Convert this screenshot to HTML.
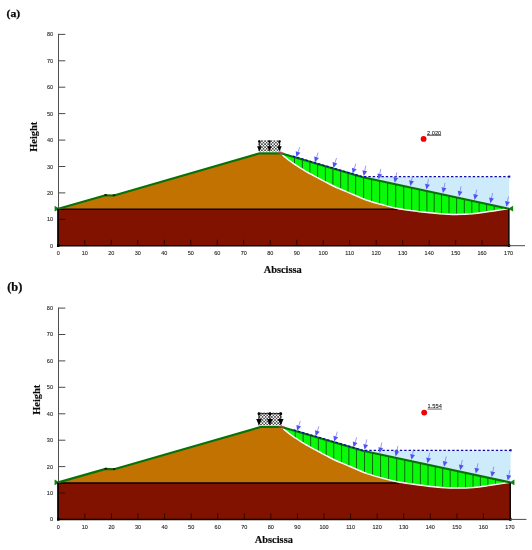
<!DOCTYPE html>
<html><head><meta charset="utf-8"><title>Slope stability</title>
<style>
html,body{margin:0;padding:0;background:#fff}
svg{display:block}
.t{font-family:"Liberation Sans",Arial,sans-serif;font-size:5.5px;fill:#2a2a2a;stroke:#2a2a2a;stroke-width:0.12px}
.f{font-family:"Liberation Sans",Arial,sans-serif;font-size:6.1px;fill:#222;stroke:#222;stroke-width:0.1px}
.p{font-family:"Liberation Serif","Times New Roman",serif;font-weight:bold;fill:#0a0a0a;stroke:#0a0a0a;stroke-width:0.25px}
.a{font-family:"Liberation Serif","Times New Roman",serif;font-weight:bold;font-size:10.4px;fill:#0a0a0a;stroke:#0a0a0a;stroke-width:0.15px}
</style></head><body>
<svg width="532" height="550" viewBox="0 0 532 550">
<defs>
<pattern id="hatch" width="3.1" height="3.1" patternUnits="userSpaceOnUse">
<path d="M0,0 L3.1,3.1 M3.1,0 L0,3.1" stroke="#000" stroke-width="0.55"/>
</pattern>
</defs>
<rect width="532" height="550" fill="#fff"/>
<rect x="58.0" y="209.2" width="450.9" height="36.8" fill="#821200"/>
<polygon points="58.3,209.2 58.3,208.7 105.6,195.2 113.9,195.5 259.8,153.3 281.0,153.3 362.0,177.0 508.9,208.7 508.9,209.2" fill="#C27200"/>
<polygon points="362.0,177.0 509.2,177.0 509.2,208.7" fill="#CDEBFA"/>
<path d="M281.0,153.8 C282.2,154.8 285.9,157.9 288.2,159.7 C290.5,161.4 292.6,162.8 294.8,164.3 C297.0,165.8 299.4,167.3 301.4,168.6 C303.4,169.9 305.0,170.8 307.0,172.0 C309.0,173.2 311.4,174.4 313.6,175.6 C315.8,176.8 318.1,178.0 320.2,179.1 C322.3,180.2 323.9,181.1 326.0,182.2 C328.1,183.3 330.6,184.7 332.9,185.8 C335.2,186.9 337.3,187.8 339.7,188.8 C342.1,189.8 344.4,190.8 347.0,191.9 C349.6,193.0 351.7,193.9 355.0,195.3 C358.3,196.7 362.1,198.6 366.9,200.2 C371.7,201.8 378.7,203.7 383.8,205.1 C388.9,206.5 391.8,207.3 397.4,208.4 C403.0,209.5 412.3,210.7 417.7,211.4 C423.1,212.1 426.3,212.4 430.0,212.8 C433.7,213.2 435.8,213.4 440.0,213.7 C444.2,214.0 450.0,214.4 455.4,214.4 C460.8,214.4 466.7,214.2 472.3,213.7 C477.9,213.2 483.1,212.4 489.2,211.6 C495.3,210.8 505.4,209.1 508.7,208.6 L362.0,177.0 L281.0,153.3 Z" fill="#08FA08"/>
<line x1="58.3" y1="209.2" x2="398" y2="209.2" stroke="#0a0000" stroke-width="1.5"/>
<line x1="294.5" y1="157.2" x2="294.5" y2="164.1" stroke="#0c5a0c" stroke-width="0.9"/>
<line x1="302.4" y1="159.5" x2="302.4" y2="169.2" stroke="#0c5a0c" stroke-width="0.9"/>
<line x1="309.9" y1="161.7" x2="309.9" y2="173.6" stroke="#0c5a0c" stroke-width="0.9"/>
<line x1="317.6" y1="164.0" x2="317.6" y2="177.7" stroke="#0c5a0c" stroke-width="0.9"/>
<line x1="325.4" y1="166.3" x2="325.4" y2="181.9" stroke="#0c5a0c" stroke-width="0.9"/>
<line x1="332.9" y1="168.5" x2="332.9" y2="185.8" stroke="#0c5a0c" stroke-width="0.9"/>
<line x1="340.7" y1="170.8" x2="340.7" y2="189.2" stroke="#0c5a0c" stroke-width="0.9"/>
<line x1="348.0" y1="172.9" x2="348.0" y2="192.3" stroke="#0c5a0c" stroke-width="0.9"/>
<line x1="355.6" y1="175.2" x2="355.6" y2="195.5" stroke="#0c5a0c" stroke-width="0.9"/>
<line x1="363.6" y1="177.4" x2="363.6" y2="198.8" stroke="#0c5a0c" stroke-width="0.9"/>
<line x1="371.6" y1="179.1" x2="371.6" y2="201.6" stroke="#0c5a0c" stroke-width="0.9"/>
<line x1="379.6" y1="180.8" x2="379.6" y2="203.9" stroke="#0c5a0c" stroke-width="0.9"/>
<line x1="387.6" y1="182.6" x2="387.6" y2="206.0" stroke="#0c5a0c" stroke-width="0.9"/>
<line x1="395.7" y1="184.3" x2="395.7" y2="208.0" stroke="#0c5a0c" stroke-width="0.9"/>
<line x1="403.7" y1="186.0" x2="403.7" y2="209.3" stroke="#0c5a0c" stroke-width="0.9"/>
<line x1="411.6" y1="187.7" x2="411.6" y2="210.5" stroke="#0c5a0c" stroke-width="0.9"/>
<line x1="419.3" y1="189.4" x2="419.3" y2="211.6" stroke="#0c5a0c" stroke-width="0.9"/>
<line x1="426.9" y1="191.0" x2="426.9" y2="212.4" stroke="#0c5a0c" stroke-width="0.9"/>
<line x1="434.2" y1="192.6" x2="434.2" y2="213.2" stroke="#0c5a0c" stroke-width="0.9"/>
<line x1="441.5" y1="194.2" x2="441.5" y2="213.8" stroke="#0c5a0c" stroke-width="0.9"/>
<line x1="449.0" y1="195.8" x2="449.0" y2="214.1" stroke="#0c5a0c" stroke-width="0.9"/>
<line x1="456.6" y1="197.4" x2="456.6" y2="214.4" stroke="#0c5a0c" stroke-width="0.9"/>
<line x1="464.3" y1="199.1" x2="464.3" y2="214.0" stroke="#0c5a0c" stroke-width="0.9"/>
<line x1="471.8" y1="200.7" x2="471.8" y2="213.7" stroke="#0c5a0c" stroke-width="0.9"/>
<line x1="479.1" y1="202.3" x2="479.1" y2="212.9" stroke="#0c5a0c" stroke-width="0.9"/>
<line x1="486.6" y1="203.9" x2="486.6" y2="211.9" stroke="#0c5a0c" stroke-width="0.9"/>
<line x1="494.2" y1="205.5" x2="494.2" y2="210.8" stroke="#0c5a0c" stroke-width="0.9"/>
<line x1="501.8" y1="207.2" x2="501.8" y2="209.7" stroke="#0c5a0c" stroke-width="0.9"/>
<path d="M281.0,153.8 C282.2,154.8 285.9,157.9 288.2,159.7 C290.5,161.4 292.6,162.8 294.8,164.3 C297.0,165.8 299.4,167.3 301.4,168.6 C303.4,169.9 305.0,170.8 307.0,172.0 C309.0,173.2 311.4,174.4 313.6,175.6 C315.8,176.8 318.1,178.0 320.2,179.1 C322.3,180.2 323.9,181.1 326.0,182.2 C328.1,183.3 330.6,184.7 332.9,185.8 C335.2,186.9 337.3,187.8 339.7,188.8 C342.1,189.8 344.4,190.8 347.0,191.9 C349.6,193.0 351.7,193.9 355.0,195.3 C358.3,196.7 362.1,198.6 366.9,200.2 C371.7,201.8 378.7,203.7 383.8,205.1 C388.9,206.5 391.8,207.3 397.4,208.4 C403.0,209.5 412.3,210.7 417.7,211.4 C423.1,212.1 426.3,212.4 430.0,212.8 C433.7,213.2 435.8,213.4 440.0,213.7 C444.2,214.0 450.0,214.4 455.4,214.4 C460.8,214.4 466.7,214.2 472.3,213.7 C477.9,213.2 483.1,212.4 489.2,211.6 C495.3,210.8 505.4,209.1 508.7,208.6" fill="none" stroke="#ffffff" stroke-width="1.5"/>
<polyline points="58.3,208.7 105.6,195.2 113.9,195.5 259.8,153.3 281.0,153.3 362.0,177.0 508.9,208.7" fill="none" stroke="#077307" stroke-width="2.15" stroke-linejoin="round"/>
<polygon points="54.6,205.8 59.8,208.7 54.6,211.6" fill="#0e860e"/>
<polygon points="513.1,205.8 507.9,208.7 513.1,211.6" fill="#0e860e"/>
<ellipse cx="105.6" cy="195.0" rx="1.5" ry="1.0" fill="#1c1c10"/>
<ellipse cx="113.9" cy="195.3" rx="1.5" ry="1.0" fill="#1c1c10"/>
<line x1="58.0" y1="208.5" x2="58.0" y2="246.4" stroke="#000" stroke-width="1.7"/>
<line x1="508.9" y1="208.7" x2="508.9" y2="246.4" stroke="#000" stroke-width="1.4"/>
<line x1="57.3" y1="245.7" x2="509.8" y2="245.7" stroke="#000" stroke-width="1.5"/>
<rect x="57.0" y="244.2" width="2.4" height="2.8" fill="#000"/>
<rect x="507.8" y="244.2" width="2.4" height="2.8" fill="#000"/>
<line x1="58.5" y1="33.9" x2="58.5" y2="209.2" stroke="#505050" stroke-width="1"/>
<line x1="508.6" y1="245.7" x2="525" y2="245.7" stroke="#4a4a4a" stroke-width="1"/>
<text x="53" y="247.7" text-anchor="end" class="t">0</text>
<line x1="58.3" y1="219.3" x2="65.3" y2="219.3" stroke="#3a0800" stroke-width="1"/>
<text x="53" y="221.3" text-anchor="end" class="t">10</text>
<line x1="58.3" y1="192.9" x2="65.3" y2="192.9" stroke="#4a4a4a" stroke-width="1"/>
<text x="53" y="194.9" text-anchor="end" class="t">20</text>
<line x1="58.3" y1="166.5" x2="65.3" y2="166.5" stroke="#4a4a4a" stroke-width="1"/>
<text x="53" y="168.5" text-anchor="end" class="t">30</text>
<line x1="58.3" y1="140.1" x2="65.3" y2="140.1" stroke="#4a4a4a" stroke-width="1"/>
<text x="53" y="142.1" text-anchor="end" class="t">40</text>
<line x1="58.3" y1="113.6" x2="65.3" y2="113.6" stroke="#4a4a4a" stroke-width="1"/>
<text x="53" y="115.6" text-anchor="end" class="t">50</text>
<line x1="58.3" y1="87.2" x2="65.3" y2="87.2" stroke="#4a4a4a" stroke-width="1"/>
<text x="53" y="89.2" text-anchor="end" class="t">60</text>
<line x1="58.3" y1="60.8" x2="65.3" y2="60.8" stroke="#4a4a4a" stroke-width="1"/>
<text x="53" y="62.8" text-anchor="end" class="t">70</text>
<line x1="58.3" y1="34.4" x2="65.3" y2="34.4" stroke="#4a4a4a" stroke-width="1"/>
<text x="53" y="36.4" text-anchor="end" class="t">80</text>
<text x="58.3" y="255.0" text-anchor="middle" class="t">0</text>
<line x1="84.8" y1="245.7" x2="84.8" y2="239.7" stroke="#2a0500" stroke-width="0.9"/>
<text x="84.8" y="255.0" text-anchor="middle" class="t">10</text>
<line x1="111.3" y1="245.7" x2="111.3" y2="239.7" stroke="#2a0500" stroke-width="0.9"/>
<text x="111.3" y="255.0" text-anchor="middle" class="t">20</text>
<line x1="137.8" y1="245.7" x2="137.8" y2="239.7" stroke="#2a0500" stroke-width="0.9"/>
<text x="137.8" y="255.0" text-anchor="middle" class="t">30</text>
<line x1="164.3" y1="245.7" x2="164.3" y2="239.7" stroke="#2a0500" stroke-width="0.9"/>
<text x="164.3" y="255.0" text-anchor="middle" class="t">40</text>
<line x1="190.8" y1="245.7" x2="190.8" y2="239.7" stroke="#2a0500" stroke-width="0.9"/>
<text x="190.8" y="255.0" text-anchor="middle" class="t">50</text>
<line x1="217.2" y1="245.7" x2="217.2" y2="239.7" stroke="#2a0500" stroke-width="0.9"/>
<text x="217.2" y="255.0" text-anchor="middle" class="t">60</text>
<line x1="243.7" y1="245.7" x2="243.7" y2="239.7" stroke="#2a0500" stroke-width="0.9"/>
<text x="243.7" y="255.0" text-anchor="middle" class="t">70</text>
<line x1="270.2" y1="245.7" x2="270.2" y2="239.7" stroke="#2a0500" stroke-width="0.9"/>
<text x="270.2" y="255.0" text-anchor="middle" class="t">80</text>
<line x1="296.7" y1="245.7" x2="296.7" y2="239.7" stroke="#2a0500" stroke-width="0.9"/>
<text x="296.7" y="255.0" text-anchor="middle" class="t">90</text>
<line x1="323.2" y1="245.7" x2="323.2" y2="239.7" stroke="#2a0500" stroke-width="0.9"/>
<text x="323.2" y="255.0" text-anchor="middle" class="t">100</text>
<line x1="349.7" y1="245.7" x2="349.7" y2="239.7" stroke="#2a0500" stroke-width="0.9"/>
<text x="349.7" y="255.0" text-anchor="middle" class="t">110</text>
<line x1="376.2" y1="245.7" x2="376.2" y2="239.7" stroke="#2a0500" stroke-width="0.9"/>
<text x="376.2" y="255.0" text-anchor="middle" class="t">120</text>
<line x1="402.7" y1="245.7" x2="402.7" y2="239.7" stroke="#2a0500" stroke-width="0.9"/>
<text x="402.7" y="255.0" text-anchor="middle" class="t">130</text>
<line x1="429.2" y1="245.7" x2="429.2" y2="239.7" stroke="#2a0500" stroke-width="0.9"/>
<text x="429.2" y="255.0" text-anchor="middle" class="t">140</text>
<line x1="455.7" y1="245.7" x2="455.7" y2="239.7" stroke="#2a0500" stroke-width="0.9"/>
<text x="455.7" y="255.0" text-anchor="middle" class="t">150</text>
<line x1="482.1" y1="245.7" x2="482.1" y2="239.7" stroke="#2a0500" stroke-width="0.9"/>
<text x="482.1" y="255.0" text-anchor="middle" class="t">160</text>
<text x="508.6" y="255.0" text-anchor="middle" class="t">170</text>
<polyline points="293,156.2 362.0,176.6 509.3,176.6" fill="none" stroke="#0a0aa8" stroke-width="1.3" stroke-dasharray="2.4,1.95"/>
<rect x="508.3" y="175.6" width="2" height="2" fill="#0a0aa8"/>
<line x1="299.6" y1="147.2" x2="298.1" y2="151.9" stroke="#7a7af2" stroke-width="0.75"/>
<polygon points="296.4,157.1 295.7,151.2 300.4,152.7" fill="#5252f2"/>
<line x1="318.1" y1="152.6" x2="316.6" y2="157.4" stroke="#7a7af2" stroke-width="0.75"/>
<polygon points="314.9,162.5 314.2,156.6 318.9,158.1" fill="#5252f2"/>
<line x1="336.5" y1="158.0" x2="335.0" y2="162.8" stroke="#7a7af2" stroke-width="0.75"/>
<polygon points="333.3,167.9 332.6,162.0 337.3,163.5" fill="#5252f2"/>
<line x1="355.8" y1="163.7" x2="354.3" y2="168.4" stroke="#7a7af2" stroke-width="0.75"/>
<polygon points="352.6,173.6 351.9,167.7 356.6,169.2" fill="#5252f2"/>
<line x1="365.8" y1="165.7" x2="364.8" y2="170.7" stroke="#7a7af2" stroke-width="0.75"/>
<polygon points="363.7,176.0 362.4,170.2 367.2,171.2" fill="#5252f2"/>
<line x1="380.8" y1="168.9" x2="379.8" y2="173.9" stroke="#7a7af2" stroke-width="0.75"/>
<polygon points="378.7,179.2 377.4,173.5 382.2,174.4" fill="#5252f2"/>
<line x1="396.8" y1="172.4" x2="395.8" y2="177.4" stroke="#7a7af2" stroke-width="0.75"/>
<polygon points="394.7,182.7 393.4,176.9 398.2,177.9" fill="#5252f2"/>
<line x1="412.5" y1="175.8" x2="411.5" y2="180.8" stroke="#7a7af2" stroke-width="0.75"/>
<polygon points="410.4,186.1 409.1,180.3 413.9,181.3" fill="#5252f2"/>
<line x1="428.5" y1="179.2" x2="427.5" y2="184.2" stroke="#7a7af2" stroke-width="0.75"/>
<polygon points="426.4,189.5 425.1,183.7 429.9,184.7" fill="#5252f2"/>
<line x1="445.0" y1="182.8" x2="444.0" y2="187.8" stroke="#7a7af2" stroke-width="0.75"/>
<polygon points="442.9,193.1 441.6,187.3 446.4,188.3" fill="#5252f2"/>
<line x1="461.1" y1="186.3" x2="460.1" y2="191.3" stroke="#7a7af2" stroke-width="0.75"/>
<polygon points="459.0,196.6 457.7,190.8 462.5,191.8" fill="#5252f2"/>
<line x1="476.7" y1="189.6" x2="475.7" y2="194.6" stroke="#7a7af2" stroke-width="0.75"/>
<polygon points="474.6,199.9 473.3,194.1 478.1,195.1" fill="#5252f2"/>
<line x1="492.5" y1="193.0" x2="491.5" y2="198.0" stroke="#7a7af2" stroke-width="0.75"/>
<polygon points="490.4,203.3 489.1,197.5 493.9,198.5" fill="#5252f2"/>
<line x1="508.5" y1="196.5" x2="507.5" y2="201.5" stroke="#7a7af2" stroke-width="0.75"/>
<polygon points="506.4,206.8 505.1,201.0 509.9,202.0" fill="#5252f2"/>
<rect x="258.5" y="140.2" width="21.80000000000001" height="11.300000000000011" fill="url(#hatch)"/>
<circle cx="259.3" cy="141.4" r="1.2" fill="#000"/>
<line x1="259.3" y1="141.2" x2="259.3" y2="146.5" stroke="#000" stroke-width="0.8"/>
<polygon points="257.1,146.2 261.5,146.2 259.3,151.5" fill="#000"/>
<circle cx="269.4" cy="141.4" r="1.2" fill="#000"/>
<line x1="269.4" y1="141.2" x2="269.4" y2="146.5" stroke="#000" stroke-width="0.8"/>
<polygon points="267.2,146.2 271.6,146.2 269.4,151.5" fill="#000"/>
<circle cx="279.5" cy="141.4" r="1.2" fill="#000"/>
<line x1="279.5" y1="141.2" x2="279.5" y2="146.5" stroke="#000" stroke-width="0.8"/>
<polygon points="277.3,146.2 281.7,146.2 279.5,151.5" fill="#000"/>
<path d="M278.0,153.0 h5.8 M280.7,151.3 l1.2,5.2" stroke="#c8405a" stroke-width="1.05" opacity="0.9" fill="none"/>
<circle cx="423.6" cy="138.9" r="2.9" fill="#f00000"/>
<text x="427" y="134.7" class="f" textLength="14.2" lengthAdjust="spacingAndGlyphs">2.020</text>
<line x1="427" y1="135.35" x2="441.2" y2="135.35" stroke="#222" stroke-width="0.7"/>
<text x="6.5" y="16.6" class="p" font-size="10.8" textLength="13.7" lengthAdjust="spacingAndGlyphs">(a)</text>
<text transform="translate(36.8,136.8) rotate(-90)" text-anchor="middle" class="a">Height</text>
<text x="282.7" y="272.6" text-anchor="middle" class="a">Abscissa</text>
<g transform="matrix(1.003 0 0 1 -0.175 0)">
<rect x="58.0" y="482.9" width="450.9" height="36.8" fill="#821200"/>
<polygon points="58.3,482.9 58.3,482.4 105.6,468.9 113.9,469.2 259.8,427.0 281.0,427.0 362.0,450.7 508.9,482.4 508.9,482.9" fill="#C27200"/>
<polygon points="362.0,450.7 509.2,450.7 509.2,482.4" fill="#CDEBFA"/>
<path d="M281.0,427.5 C282.2,428.5 285.9,431.6 288.2,433.4 C290.5,435.1 292.6,436.5 294.8,438.0 C297.0,439.5 299.4,441.0 301.4,442.3 C303.4,443.6 305.0,444.5 307.0,445.7 C309.0,446.9 311.4,448.1 313.6,449.3 C315.8,450.5 318.1,451.7 320.2,452.8 C322.3,453.9 323.9,454.8 326.0,455.9 C328.1,457.0 330.6,458.4 332.9,459.5 C335.2,460.6 337.3,461.5 339.7,462.5 C342.1,463.5 344.4,464.5 347.0,465.6 C349.6,466.7 351.7,467.6 355.0,469.0 C358.3,470.4 362.1,472.3 366.9,473.9 C371.7,475.5 378.7,477.4 383.8,478.8 C388.9,480.2 391.8,481.1 397.4,482.1 C403.0,483.2 412.3,484.4 417.7,485.1 C423.1,485.8 426.3,486.1 430.0,486.5 C433.7,486.9 435.8,487.1 440.0,487.4 C444.2,487.7 450.0,488.1 455.4,488.1 C460.8,488.1 466.7,487.9 472.3,487.4 C477.9,486.9 483.1,486.1 489.2,485.3 C495.3,484.4 505.4,482.8 508.7,482.3 L362.0,450.7 L281.0,427.0 Z" fill="#08FA08"/>
<line x1="58.3" y1="482.9" x2="398" y2="482.9" stroke="#0a0000" stroke-width="1.5"/>
<line x1="294.5" y1="430.9" x2="294.5" y2="437.8" stroke="#0c5a0c" stroke-width="0.9"/>
<line x1="302.4" y1="433.2" x2="302.4" y2="442.9" stroke="#0c5a0c" stroke-width="0.9"/>
<line x1="309.9" y1="435.4" x2="309.9" y2="447.3" stroke="#0c5a0c" stroke-width="0.9"/>
<line x1="317.6" y1="437.7" x2="317.6" y2="451.4" stroke="#0c5a0c" stroke-width="0.9"/>
<line x1="325.4" y1="440.0" x2="325.4" y2="455.6" stroke="#0c5a0c" stroke-width="0.9"/>
<line x1="332.9" y1="442.2" x2="332.9" y2="459.5" stroke="#0c5a0c" stroke-width="0.9"/>
<line x1="340.7" y1="444.5" x2="340.7" y2="462.9" stroke="#0c5a0c" stroke-width="0.9"/>
<line x1="348.0" y1="446.6" x2="348.0" y2="466.0" stroke="#0c5a0c" stroke-width="0.9"/>
<line x1="355.6" y1="448.9" x2="355.6" y2="469.2" stroke="#0c5a0c" stroke-width="0.9"/>
<line x1="363.6" y1="451.1" x2="363.6" y2="472.5" stroke="#0c5a0c" stroke-width="0.9"/>
<line x1="371.6" y1="452.8" x2="371.6" y2="475.3" stroke="#0c5a0c" stroke-width="0.9"/>
<line x1="379.6" y1="454.5" x2="379.6" y2="477.6" stroke="#0c5a0c" stroke-width="0.9"/>
<line x1="387.6" y1="456.3" x2="387.6" y2="479.7" stroke="#0c5a0c" stroke-width="0.9"/>
<line x1="395.7" y1="458.0" x2="395.7" y2="481.7" stroke="#0c5a0c" stroke-width="0.9"/>
<line x1="403.7" y1="459.7" x2="403.7" y2="483.0" stroke="#0c5a0c" stroke-width="0.9"/>
<line x1="411.6" y1="461.4" x2="411.6" y2="484.2" stroke="#0c5a0c" stroke-width="0.9"/>
<line x1="419.3" y1="463.1" x2="419.3" y2="485.3" stroke="#0c5a0c" stroke-width="0.9"/>
<line x1="426.9" y1="464.7" x2="426.9" y2="486.1" stroke="#0c5a0c" stroke-width="0.9"/>
<line x1="434.2" y1="466.3" x2="434.2" y2="486.9" stroke="#0c5a0c" stroke-width="0.9"/>
<line x1="441.5" y1="467.9" x2="441.5" y2="487.5" stroke="#0c5a0c" stroke-width="0.9"/>
<line x1="449.0" y1="469.5" x2="449.0" y2="487.8" stroke="#0c5a0c" stroke-width="0.9"/>
<line x1="456.6" y1="471.1" x2="456.6" y2="488.1" stroke="#0c5a0c" stroke-width="0.9"/>
<line x1="464.3" y1="472.8" x2="464.3" y2="487.7" stroke="#0c5a0c" stroke-width="0.9"/>
<line x1="471.8" y1="474.4" x2="471.8" y2="487.4" stroke="#0c5a0c" stroke-width="0.9"/>
<line x1="479.1" y1="476.0" x2="479.1" y2="486.6" stroke="#0c5a0c" stroke-width="0.9"/>
<line x1="486.6" y1="477.6" x2="486.6" y2="485.6" stroke="#0c5a0c" stroke-width="0.9"/>
<line x1="494.2" y1="479.2" x2="494.2" y2="484.5" stroke="#0c5a0c" stroke-width="0.9"/>
<line x1="501.8" y1="480.9" x2="501.8" y2="483.4" stroke="#0c5a0c" stroke-width="0.9"/>
<path d="M281.0,427.5 C282.2,428.5 285.9,431.6 288.2,433.4 C290.5,435.1 292.6,436.5 294.8,438.0 C297.0,439.5 299.4,441.0 301.4,442.3 C303.4,443.6 305.0,444.5 307.0,445.7 C309.0,446.9 311.4,448.1 313.6,449.3 C315.8,450.5 318.1,451.7 320.2,452.8 C322.3,453.9 323.9,454.8 326.0,455.9 C328.1,457.0 330.6,458.4 332.9,459.5 C335.2,460.6 337.3,461.5 339.7,462.5 C342.1,463.5 344.4,464.5 347.0,465.6 C349.6,466.7 351.7,467.6 355.0,469.0 C358.3,470.4 362.1,472.3 366.9,473.9 C371.7,475.5 378.7,477.4 383.8,478.8 C388.9,480.2 391.8,481.1 397.4,482.1 C403.0,483.2 412.3,484.4 417.7,485.1 C423.1,485.8 426.3,486.1 430.0,486.5 C433.7,486.9 435.8,487.1 440.0,487.4 C444.2,487.7 450.0,488.1 455.4,488.1 C460.8,488.1 466.7,487.9 472.3,487.4 C477.9,486.9 483.1,486.1 489.2,485.3 C495.3,484.4 505.4,482.8 508.7,482.3" fill="none" stroke="#ffffff" stroke-width="1.5"/>
<polyline points="58.3,482.4 105.6,468.9 113.9,469.2 259.8,427.0 281.0,427.0 362.0,450.7 508.9,482.4" fill="none" stroke="#077307" stroke-width="2.15" stroke-linejoin="round"/>
<polygon points="54.6,479.5 59.8,482.4 54.6,485.3" fill="#0e860e"/>
<polygon points="513.1,479.5 507.9,482.4 513.1,485.3" fill="#0e860e"/>
<ellipse cx="105.6" cy="468.7" rx="1.5" ry="1.0" fill="#1c1c10"/>
<ellipse cx="113.9" cy="469.0" rx="1.5" ry="1.0" fill="#1c1c10"/>
<line x1="58.0" y1="482.2" x2="58.0" y2="520.1" stroke="#000" stroke-width="1.7"/>
<line x1="508.9" y1="482.4" x2="508.9" y2="520.1" stroke="#000" stroke-width="1.4"/>
<line x1="57.3" y1="519.4" x2="509.8" y2="519.4" stroke="#000" stroke-width="1.5"/>
<rect x="57.0" y="517.9" width="2.4" height="2.8" fill="#000"/>
<rect x="507.8" y="517.9" width="2.4" height="2.8" fill="#000"/>
<line x1="58.5" y1="307.6" x2="58.5" y2="482.9" stroke="#505050" stroke-width="1"/>
<line x1="508.6" y1="519.4" x2="525" y2="519.4" stroke="#4a4a4a" stroke-width="1"/>
<text x="53" y="521.4" text-anchor="end" class="t">0</text>
<line x1="58.3" y1="493.0" x2="65.3" y2="493.0" stroke="#3a0800" stroke-width="1"/>
<text x="53" y="495.0" text-anchor="end" class="t">10</text>
<line x1="58.3" y1="466.6" x2="65.3" y2="466.6" stroke="#4a4a4a" stroke-width="1"/>
<text x="53" y="468.6" text-anchor="end" class="t">20</text>
<line x1="58.3" y1="440.2" x2="65.3" y2="440.2" stroke="#4a4a4a" stroke-width="1"/>
<text x="53" y="442.2" text-anchor="end" class="t">30</text>
<line x1="58.3" y1="413.8" x2="65.3" y2="413.8" stroke="#4a4a4a" stroke-width="1"/>
<text x="53" y="415.8" text-anchor="end" class="t">40</text>
<line x1="58.3" y1="387.3" x2="65.3" y2="387.3" stroke="#4a4a4a" stroke-width="1"/>
<text x="53" y="389.3" text-anchor="end" class="t">50</text>
<line x1="58.3" y1="360.9" x2="65.3" y2="360.9" stroke="#4a4a4a" stroke-width="1"/>
<text x="53" y="362.9" text-anchor="end" class="t">60</text>
<line x1="58.3" y1="334.5" x2="65.3" y2="334.5" stroke="#4a4a4a" stroke-width="1"/>
<text x="53" y="336.5" text-anchor="end" class="t">70</text>
<line x1="58.3" y1="308.1" x2="65.3" y2="308.1" stroke="#4a4a4a" stroke-width="1"/>
<text x="53" y="310.1" text-anchor="end" class="t">80</text>
<text x="58.3" y="528.7" text-anchor="middle" class="t">0</text>
<line x1="84.8" y1="519.4" x2="84.8" y2="513.4" stroke="#2a0500" stroke-width="0.9"/>
<text x="84.8" y="528.7" text-anchor="middle" class="t">10</text>
<line x1="111.3" y1="519.4" x2="111.3" y2="513.4" stroke="#2a0500" stroke-width="0.9"/>
<text x="111.3" y="528.7" text-anchor="middle" class="t">20</text>
<line x1="137.8" y1="519.4" x2="137.8" y2="513.4" stroke="#2a0500" stroke-width="0.9"/>
<text x="137.8" y="528.7" text-anchor="middle" class="t">30</text>
<line x1="164.3" y1="519.4" x2="164.3" y2="513.4" stroke="#2a0500" stroke-width="0.9"/>
<text x="164.3" y="528.7" text-anchor="middle" class="t">40</text>
<line x1="190.8" y1="519.4" x2="190.8" y2="513.4" stroke="#2a0500" stroke-width="0.9"/>
<text x="190.8" y="528.7" text-anchor="middle" class="t">50</text>
<line x1="217.2" y1="519.4" x2="217.2" y2="513.4" stroke="#2a0500" stroke-width="0.9"/>
<text x="217.2" y="528.7" text-anchor="middle" class="t">60</text>
<line x1="243.7" y1="519.4" x2="243.7" y2="513.4" stroke="#2a0500" stroke-width="0.9"/>
<text x="243.7" y="528.7" text-anchor="middle" class="t">70</text>
<line x1="270.2" y1="519.4" x2="270.2" y2="513.4" stroke="#2a0500" stroke-width="0.9"/>
<text x="270.2" y="528.7" text-anchor="middle" class="t">80</text>
<line x1="296.7" y1="519.4" x2="296.7" y2="513.4" stroke="#2a0500" stroke-width="0.9"/>
<text x="296.7" y="528.7" text-anchor="middle" class="t">90</text>
<line x1="323.2" y1="519.4" x2="323.2" y2="513.4" stroke="#2a0500" stroke-width="0.9"/>
<text x="323.2" y="528.7" text-anchor="middle" class="t">100</text>
<line x1="349.7" y1="519.4" x2="349.7" y2="513.4" stroke="#2a0500" stroke-width="0.9"/>
<text x="349.7" y="528.7" text-anchor="middle" class="t">110</text>
<line x1="376.2" y1="519.4" x2="376.2" y2="513.4" stroke="#2a0500" stroke-width="0.9"/>
<text x="376.2" y="528.7" text-anchor="middle" class="t">120</text>
<line x1="402.7" y1="519.4" x2="402.7" y2="513.4" stroke="#2a0500" stroke-width="0.9"/>
<text x="402.7" y="528.7" text-anchor="middle" class="t">130</text>
<line x1="429.2" y1="519.4" x2="429.2" y2="513.4" stroke="#2a0500" stroke-width="0.9"/>
<text x="429.2" y="528.7" text-anchor="middle" class="t">140</text>
<line x1="455.7" y1="519.4" x2="455.7" y2="513.4" stroke="#2a0500" stroke-width="0.9"/>
<text x="455.7" y="528.7" text-anchor="middle" class="t">150</text>
<line x1="482.1" y1="519.4" x2="482.1" y2="513.4" stroke="#2a0500" stroke-width="0.9"/>
<text x="482.1" y="528.7" text-anchor="middle" class="t">160</text>
<text x="508.6" y="528.7" text-anchor="middle" class="t">170</text>
<polyline points="293,429.9 362.0,450.3 509.3,450.3" fill="none" stroke="#0a0aa8" stroke-width="1.3" stroke-dasharray="2.4,1.95"/>
<rect x="508.3" y="449.3" width="2" height="2" fill="#0a0aa8"/>
<line x1="299.6" y1="420.9" x2="298.1" y2="425.6" stroke="#7a7af2" stroke-width="0.75"/>
<polygon points="296.4,430.8 295.7,424.9 300.4,426.4" fill="#5252f2"/>
<line x1="318.1" y1="426.3" x2="316.6" y2="431.1" stroke="#7a7af2" stroke-width="0.75"/>
<polygon points="314.9,436.2 314.2,430.3 318.9,431.8" fill="#5252f2"/>
<line x1="336.5" y1="431.7" x2="335.0" y2="436.5" stroke="#7a7af2" stroke-width="0.75"/>
<polygon points="333.3,441.6 332.6,435.7 337.3,437.2" fill="#5252f2"/>
<line x1="355.8" y1="437.4" x2="354.3" y2="442.1" stroke="#7a7af2" stroke-width="0.75"/>
<polygon points="352.6,447.3 351.9,441.4 356.6,442.9" fill="#5252f2"/>
<line x1="365.8" y1="439.4" x2="364.8" y2="444.4" stroke="#7a7af2" stroke-width="0.75"/>
<polygon points="363.7,449.7 362.4,443.9 367.2,444.9" fill="#5252f2"/>
<line x1="380.8" y1="442.6" x2="379.8" y2="447.6" stroke="#7a7af2" stroke-width="0.75"/>
<polygon points="378.7,452.9 377.4,447.2 382.2,448.1" fill="#5252f2"/>
<line x1="396.8" y1="446.1" x2="395.8" y2="451.1" stroke="#7a7af2" stroke-width="0.75"/>
<polygon points="394.7,456.4 393.4,450.6 398.2,451.6" fill="#5252f2"/>
<line x1="412.5" y1="449.5" x2="411.5" y2="454.5" stroke="#7a7af2" stroke-width="0.75"/>
<polygon points="410.4,459.8 409.1,454.0 413.9,455.0" fill="#5252f2"/>
<line x1="428.5" y1="452.9" x2="427.5" y2="457.9" stroke="#7a7af2" stroke-width="0.75"/>
<polygon points="426.4,463.2 425.1,457.4 429.9,458.4" fill="#5252f2"/>
<line x1="445.0" y1="456.5" x2="444.0" y2="461.5" stroke="#7a7af2" stroke-width="0.75"/>
<polygon points="442.9,466.8 441.6,461.0 446.4,462.0" fill="#5252f2"/>
<line x1="461.1" y1="460.0" x2="460.1" y2="465.0" stroke="#7a7af2" stroke-width="0.75"/>
<polygon points="459.0,470.3 457.7,464.5 462.5,465.5" fill="#5252f2"/>
<line x1="476.7" y1="463.3" x2="475.7" y2="468.3" stroke="#7a7af2" stroke-width="0.75"/>
<polygon points="474.6,473.6 473.3,467.8 478.1,468.8" fill="#5252f2"/>
<line x1="492.5" y1="466.7" x2="491.5" y2="471.7" stroke="#7a7af2" stroke-width="0.75"/>
<polygon points="490.4,477.0 489.1,471.2 493.9,472.2" fill="#5252f2"/>
<line x1="508.5" y1="470.2" x2="507.5" y2="475.2" stroke="#7a7af2" stroke-width="0.75"/>
<polygon points="506.4,480.5 505.1,474.7 509.9,475.7" fill="#5252f2"/>
<rect x="257.6" y="412.6" width="23.299999999999955" height="12.899999999999977" fill="url(#hatch)"/>
<line x1="257.6" y1="413.6" x2="280.9" y2="413.6" stroke="#000" stroke-width="0.8"/>
<circle cx="258.4" cy="413.8" r="1.45" fill="#000"/>
<line x1="258.4" y1="413.6" x2="258.4" y2="420.5" stroke="#000" stroke-width="0.8"/>
<polygon points="255.6,419.0 261.2,419.0 258.4,425.5" fill="#000"/>
<circle cx="269.2" cy="413.8" r="1.45" fill="#000"/>
<line x1="269.2" y1="413.6" x2="269.2" y2="420.5" stroke="#000" stroke-width="0.8"/>
<polygon points="266.4,419.0 272.1,419.0 269.2,425.5" fill="#000"/>
<circle cx="280.1" cy="413.8" r="1.45" fill="#000"/>
<line x1="280.1" y1="413.6" x2="280.1" y2="420.5" stroke="#000" stroke-width="0.8"/>
<polygon points="277.3,419.0 282.9,419.0 280.1,425.5" fill="#000"/>
<path d="M278.0,426.7 h5.8 M280.7,425.0 l1.2,5.2" stroke="#c8405a" stroke-width="1.05" opacity="0.9" fill="none"/>
<circle cx="423.1" cy="412.6" r="2.9" fill="#f00000"/>
<text x="426.5" y="408.4" class="f" textLength="14.2" lengthAdjust="spacingAndGlyphs">1.554</text>
<line x1="426.5" y1="409.04999999999995" x2="440.7" y2="409.04999999999995" stroke="#222" stroke-width="0.7"/>
<text x="7.4" y="291.3" class="p" font-size="11.5" textLength="15.0" lengthAdjust="spacingAndGlyphs">(b)</text>
<text transform="translate(39.9,399.8) rotate(-90)" text-anchor="middle" class="a">Height</text>
<text x="273.2" y="543.1" text-anchor="middle" class="a">Abscissa</text>
</g>
</svg>
</body></html>
